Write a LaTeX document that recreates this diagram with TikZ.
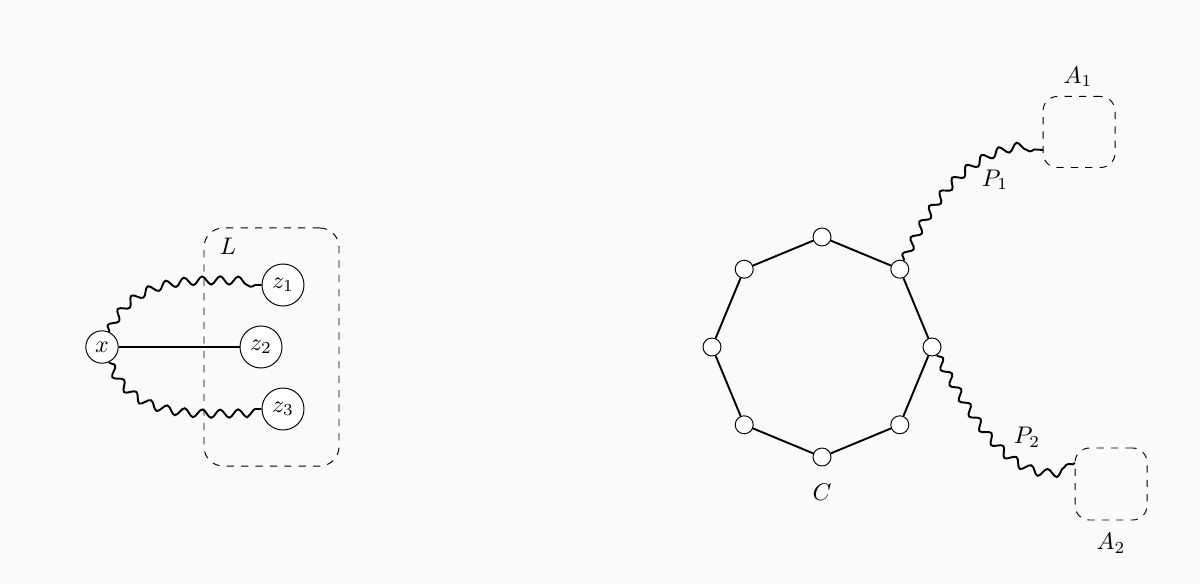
\documentclass[tikz,border=0pt]{standalone}
\usetikzlibrary{decorations.pathmorphing,calc}
\definecolor{bgc}{RGB}{250,250,250}
\begin{document}
\begin{tikzpicture}[x=0.4167pt,y=0.4167pt,
  vert/.style={circle,draw,fill=white,inner sep=0pt,minimum size=7.5pt},
  bignode/.style={circle,draw,fill=white,inner sep=0pt,minimum size=17.5pt},
  xnode/.style={circle,draw,fill=white,inner sep=0pt,minimum size=13.5pt},
  edge/.style={thick},
  wavy/.style={thick,decorate,decoration={snake,segment length=7.5pt,amplitude=1.7pt}},
  region/.style={draw,dashed,rounded corners=8pt,inner sep=0pt,outer sep=0pt}]
\fill[bgc] (0,0) rectangle (1200,583);
\useasboundingbox (0,0) rectangle (1200,583);
% left part
\node[region,minimum width=56.25pt,minimum height=99.2pt] (Lbox) at (271.5,236) {};
\node (Llab) at (228,337) {$L$};
\node[xnode] (x) at (102,236) {$x$};
\node[bignode] (z1) at (283,298) {$z_1$};
\node[bignode] (z2) at (261,236) {$z_2$};
\node[bignode] (z3) at (283,174) {$z_3$};
\draw[edge] (x) -- (z2);
\draw[wavy] (x) to[out=65,in=180] (z1);
\draw[wavy] (x) to[out=-65,in=180] (z3);
% right part
\foreach \i in {0,...,7} {
  \node[vert] (v\i) at ($(822,236)+(\i*45:110)$) {};
}
\draw[edge] (v0) -- (v1) -- (v2) -- (v3) -- (v4) -- (v5) -- (v6) -- (v7) -- (v0);
\node (Clab) at (822,91) {$C$};
\node[region,rounded corners=6pt,minimum width=30pt,minimum height=29.6pt] (A1) at (1079,451) {};
\node (A1lab) at (1078,506) {$A_1$};
\node[region,rounded corners=6pt,minimum width=30pt,minimum height=30pt] (A2) at (1111,99) {};
\node (A2lab) at (1111,40) {$A_2$};
\coordinate (e1) at (1043,433);
\coordinate (e2) at (1075,120);
\draw[wavy] (v1) to[out=65,in=175] (e1);
\draw[wavy] (v0) to[out=-60,in=205] (e2);
\node (P1lab) at (995,403) {$P_1$};
\node (P2lab) at (1027,146) {$P_2$};
\end{tikzpicture}
\end{document}
